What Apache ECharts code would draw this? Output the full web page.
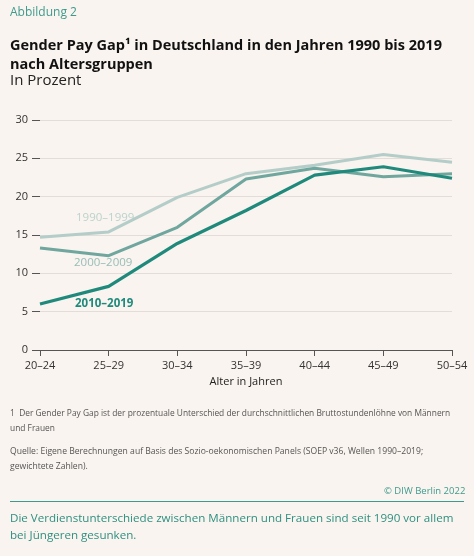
<!DOCTYPE html><html><head><meta charset="utf-8">
<script src="https://cdn.jsdelivr.net/npm/echarts@6/dist/echarts.min.js"></script>
<style>html,body{margin:0;background:#f9f4ef}#c{width:474px;height:556px}</style></head><body><div id="c"></div>
<script>
const categories=['20–24','25–29','30–34','35–39','40–44','45–49','50–54'];
const s1990=[14.7,15.4,19.9,23.0,24.1,25.5,24.5];
const s2000=[13.3,12.3,16.0,22.3,23.7,22.6,23.0];
const s2010=[6.0,8.3,13.9,18.2,22.8,23.9,22.4];
const yTicks=[0,5,10,15,20,25,30];
const F='"Open Sans", Lato, sans-serif';
const c=echarts.init(document.getElementById('c'));
const txt=(l,t,s,o)=>Object.assign({type:'text',left:l,top:t,style:Object.assign({text:s,font:'12px '+F,fill:'#222'},o||{})});
c.setOption({backgroundColor:'#f9f4ef',animation:false,
grid:{left:40,right:22,top:120,bottom:206},
xAxis:{type:'category',data:categories,boundaryGap:false,name:'Alter in Jahren',nameLocation:'middle',nameGap:26,nameTextStyle:{fontFamily:F,fontSize:11,color:'#222'},
axisLine:{lineStyle:{color:'#555'}},axisTick:{alignWithLabel:true,length:6,lineStyle:{color:'#555'}},axisLabel:{fontFamily:F,fontSize:11,color:'#333',margin:10}},
yAxis:{type:'value',min:0,max:30,interval:5,axisLine:{show:false},axisTick:{show:true,inside:false,length:8,lineStyle:{color:'#555'}},
axisLabel:{fontFamily:F,fontSize:11,color:'#333',margin:12},splitLine:{lineStyle:{color:'#e2ddd8'}}},
series:[
{type:'line',data:s1990,symbol:'none',lineStyle:{color:'#b4cdc8',width:3}},
{type:'line',data:s2000,symbol:'none',lineStyle:{color:'#6fa69e',width:3}},
{type:'line',data:s2010,symbol:'none',lineStyle:{color:'#1f8a7c',width:3.2}}],
graphic:[
txt(10,7,'Abbildung 2',{fill:'#3f9a8c',font:'12px '+F}),
txt(10,36,'Gender Pay Gap¹ in Deutschland in den Jahren 1990 bis 2019\nnach Altersgruppen',{font:'bold 14.5px '+F,lineHeight:19,fill:'#111'}),
txt(10,73,'In Prozent',{font:'15px '+F,fill:'#222'}),
txt(76,212,'1990–1999',{fill:'#bcd2ce',font:'11.5px '+F}),
txt(74,257,'2000–2009',{fill:'#98bdb7',font:'11.5px '+F}),
txt(75,298,'2010–2019',{fill:'#1f8a7c',font:'bold 11.5px '+F}),
txt(10,406,'1  Der Gender Pay Gap ist der prozentuale Unterschied der durchschnittlichen Bruttostundenlöhne von Männern\nund Frauen',{font:'8.4px '+F,lineHeight:15,fill:'#555'}),
txt(10,444,'Quelle: Eigene Berechnungen auf Basis des Sozio-oekonomischen Panels (SOEP v36, Wellen 1990–2019;\ngewichtete Zahlen).',{font:'8.6px '+F,lineHeight:15,fill:'#555'}),
txt(384,486,'© DIW Berlin 2022',{font:'9.5px '+F,fill:'#3f9a8c'}),
{type:'rect',shape:{x:10,y:501,width:454,height:1},style:{fill:'#3f9a8c'}},
txt(10,510,'Die Verdienstunterschiede zwischen Männern und Frauen sind seit 1990 vor allem\nbei Jüngeren gesunken.',{font:'11.6px '+F,lineHeight:17,fill:'#2f8f80'})
]});
</script></body></html>
